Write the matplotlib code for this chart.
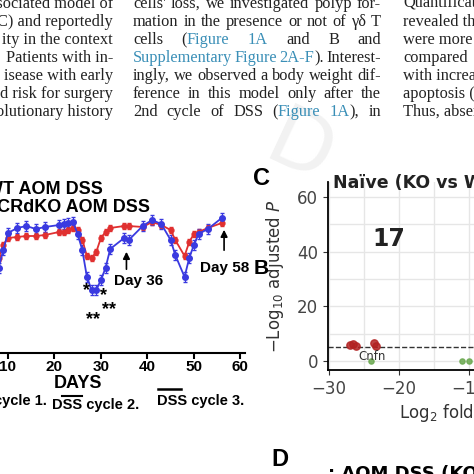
import matplotlib
matplotlib.use("Agg")
import matplotlib.pyplot as plt
import numpy as np

# ---------- data ----------
days = [8, 9, 10, 12, 14, 16, 18, 21, 22, 23, 24, 25, 26, 27, 28, 29, 30, 31, 32, 35, 36, 39, 41, 43, 45, 46, 48, 49, 50, 51, 53, 56]
ko_px = [268, 250, 233, 228, 226, 229, 227, 225, 224, 223, 222, 234, 250, 277, 290, 290, 280, 268, 249, 238, 240, 226, 220, 224, 240, 255, 277, 258, 245, 234, 229, 218]
wt_px = [258, 245, 238, 237, 236, 236, 235, 232, 232, 230, 228, 230, 240, 256, 258, 252, 238, 232, 228, 226, 226, 227, 222, 225, 230, 240, 256, 242, 234, 232, 228, 223]
ko_weight = [100 - (p - 226) / 4 for p in ko_px]
wt_weight = [100 - (p - 226) / 4 for p in wt_px]
ko_err = [1.2] * len(days)
wt_err = [0.8] * len(days)
day_ticks = [10, 20, 30, 40, 50, 60]

red_fc = [-27.0, -26.6, -26.2, -23.6, -23.3]
red_p = [6.0, 6.2, 5.4, 6.6, 5.6]
green_fc = [-24.0, -11.0, -10.0]
green_p = [0.0, 0.0, 0.0]
n_up = "17"

col1 = ["ssociated model of", "C) and reportedly", "ity in the context", "Patients with in-",
        "isease with early", "d risk for surgery", "olutionary history"]
col3 = ["Quantificati", "revealed th", "were more", "compared", "with increa", "apoptosis (", "Thus, abser"]
B = "#3a8fb7"
K = "#222222"
col2 = [
    [("cells'", K), ("loss,", K), ("we", K), ("investigated", K), ("polyp", K), ("for-", K)],
    [("mation", K), ("in", K), ("the", K), ("presence", K), ("or", K), ("not", K), ("of", K), ("γδ", K), ("T", K)],
    [("cells", K), ("(", K, "Figure", B), ("1A", B), ("and", K), ("B", K), ("and", K)],
    [("Supplementary", B), ("Figure", B), ("2A-F", B, ").", K), ("Interest-", K)],
    [("ingly,", K), ("we", K), ("observed", K), ("a", K), ("body", K), ("weight", K), ("dif-", K)],
    [("ference", K), ("in", K), ("this", K), ("model", K), ("only", K), ("after", K), ("the", K)],
    [("2nd", K), ("cycle", K), ("of", K), ("DSS", K), ("(", K, "Figure", B), ("1A", B, "),", K), ("in", K)],
]

W = H = 474
fig = plt.figure(figsize=(4.74, 4.74), dpi=100)
fig.patch.set_facecolor("white")

def fx(px): return px / W
def fy(py): return 1 - py / H

serif = "Liberation Serif"
line_y = [4, 22, 40, 58, 76, 94, 112]
fs_body = 11.8
for t, y in zip(col1, line_y):
    fig.text(fx(113), fy(y), t, ha="right", va="center", fontsize=fs_body, family=serif, color=K)
for t, y in zip(col3, line_y):
    fig.text(fx(403), fy(y), t, ha="left", va="center", fontsize=fs_body, family=serif, color=K)

fig.canvas.draw()
rend = fig.canvas.get_renderer()
def width_of(s):
    t = fig.text(0, 0, s, fontsize=fs_body, family=serif)
    w = t.get_window_extent(rend).width
    t.remove()
    return w
x0, x1 = 133, 381
for words, y in zip(col2, line_y):
    segs = []
    for w in words:
        parts = [(w[i], w[i + 1]) for i in range(0, len(w), 2)]
        segs.append(parts)
    widths = [sum(width_of(p[0]) for p in parts) for parts in segs]
    gap = (x1 - x0 - sum(widths)) / max(len(segs) - 1, 1)
    x = x0
    for parts, wd in zip(segs, widths):
        xx = x
        for s, c in parts:
            fig.text(fx(xx), fy(y), s, ha="left", va="center", fontsize=fs_body, family=serif, color=c)
            xx += width_of(s)
        x += wd + gap

# faint watermark
fig.text(fx(300), fy(150), "D", fontsize=60, color="#f2f2f2", rotation=-25, ha="center", va="center", zorder=0)

# ---------- left panel ----------
ax = fig.add_axes([fx(0), fy(353), fx(245), fy(195) - fy(353)])
ax.set_xlim(8.3, 61)
ax.set_ylim(100 - 127 / 4, 100 + 31 / 4)
for s in ["left", "right", "top"]:
    ax.spines[s].set_visible(False)
ax.spines["bottom"].set_linewidth(1.5)
ax.set_yticks([])
ax.set_xticks(day_ticks)
ax.set_xticklabels([str(d) for d in day_ticks], fontsize=11, fontweight="bold", family="Liberation Sans")
ax.tick_params(axis="x", length=4, width=1.5, pad=1)
ax.errorbar(days, wt_weight, yerr=wt_err, color="#e03030", marker="o", ms=3.5, lw=1.3, capsize=1.5, elinewidth=0.8)
ax.errorbar(days, ko_weight, yerr=ko_err, color="#3a3ae0", marker="o", ms=4, lw=1.3, capsize=1.5, elinewidth=0.8)
sf = dict(fontsize=13, fontweight="bold", family="Liberation Sans")
ax.text(26.8, 100 - (291 - 226) / 4, "*", ha="center", va="center", **sf)
ax.text(30.6, 100 - (296 - 226) / 4, "*", ha="center", va="center", **sf)
ax.text(31.8, 100 - (310 - 226) / 4, "**", ha="center", va="center", **sf)
ax.text(28.3, 100 - (320 - 226) / 4, "**", ha="center", va="center", **sf)
ax.annotate("", xy=(35.5, 100 - (249 - 226) / 4), xytext=(35.5, 100 - (272 - 226) / 4),
            arrowprops=dict(arrowstyle="-|>", color="k", lw=1.2))
ax.text(32.8, 100 - (281 - 226) / 4, "Day 36", fontsize=11, fontweight="bold", family="Liberation Sans", va="center")
ax.annotate("", xy=(56.5, 100 - (227 - 226) / 4), xytext=(56.5, 100 - (253 - 226) / 4),
            arrowprops=dict(arrowstyle="-|>", color="k", lw=1.2))
ax.text(51.3, 100 - (268 - 226) / 4, "Day 58", fontsize=11, fontweight="bold", family="Liberation Sans", va="center")

lf = dict(fontsize=13, fontweight="bold", family="Liberation Sans", va="center")
fig.text(fx(-14), fy(189), "WT AOM DSS", **lf)
fig.text(fx(-14), fy(207), "TCRdKO AOM DSS", **lf)
fig.text(fx(78), fy(384), "DAYS", ha="center", fontsize=13, fontweight="bold", family="Liberation Sans", va="center")
cf = dict(fontsize=10.5, fontweight="bold", family="Liberation Sans", va="center")
fig.text(fx(-6), fy(401), "cycle 1.", **cf)
fig.text(fx(52), fy(405), "DSS cycle 2.", **cf)
fig.text(fx(157), fy(401), "DSS cycle 3.", **cf)
fig.add_artist(plt.Line2D([fx(62), fx(82)], [fy(396), fy(396)], color="k", lw=1.5))
fig.add_artist(plt.Line2D([fx(158), fx(181)], [fy(389), fy(389)], color="k", lw=1.8))

# ---------- right panel ----------
ax2 = fig.add_axes([fx(328), fy(370), fx(480) - fx(328), fy(182) - fy(370)])
ax2.set_xlim(-30.15, -30 + (480 - 329) / 7)
ax2.set_ylim(-3.3, 65.5)
ax2.set_facecolor("white")
ax2.set_xticks([-30, -20, -10])
ax2.set_xticks([-25, -15], minor=True)
ax2.set_yticks([0, 20, 40, 60])
ax2.set_yticks([10, 30, 50], minor=True)
ax2.grid(True, which="both", color="#e6e6e6", lw=1)
ax2.set_axisbelow(True)
for s in ["right", "top"]:
    ax2.spines[s].set_visible(False)
ax2.spines["left"].set_linewidth(1.3)
ax2.spines["bottom"].set_linewidth(1.3)
ax2.tick_params(which="minor", length=0)
ax2.tick_params(which="major", labelsize=12, colors="#333333", labelcolor="#444444")
ax2.axhline(5.1, color="#333333", ls="--", lw=1)
ax2.scatter(red_fc, red_p, color="#b22222", s=28, alpha=0.85, zorder=3)
ax2.scatter(green_fc, green_p, color="#6aa84f", s=14, alpha=0.85, zorder=3)
ax2.text(-23.9, 1.8, "Cnfn", fontsize=8.5, ha="center", va="center", color="#333333")
ax2.text(-21.5, 44.5, n_up, fontsize=17, fontweight="bold", ha="center", va="center", color="#222222")
ax2.text(0.03, 0.995, "Naïve (KO vs WT)", transform=ax2.transAxes, fontsize=12.5, fontweight="bold",
         ha="left", va="center", color="#222222")
ax2.set_ylabel("$-$Log$_{10}$ adjusted $P$", fontsize=12, color="#333333", labelpad=8)
ax2.set_xlabel("Log$_2$ fold change", fontsize=12, color="#333333", labelpad=2)
ax2.xaxis.set_label_coords(0.47, -0.17)
ax2.xaxis.label.set_ha("left")

fig.text(fx(262), fy(178), "C", fontsize=17, fontweight="bold", family="Liberation Sans", va="center", ha="center")
fig.text(fx(254), fy(268), "B", fontsize=15, fontweight="bold", family="Liberation Sans", va="center", ha="left")
fig.text(fx(280), fy(460), "D", fontsize=17, fontweight="bold", family="Liberation Sans", va="center", ha="center")
fig.text(fx(328), fy(474), ": AOM DSS (KO vs WT)", fontsize=13, fontweight="bold", va="center", ha="left")

fig.savefig("out.png", dpi=100)
